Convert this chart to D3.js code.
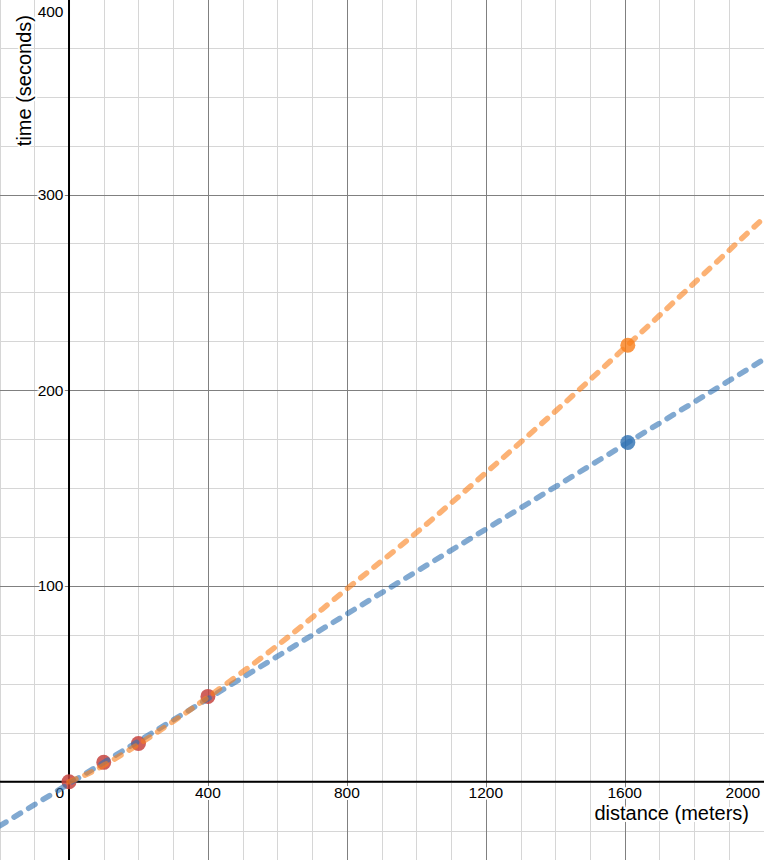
<!DOCTYPE html>
<html>
<head>
<meta charset="utf-8">
<script src="https://cdn.jsdelivr.net/npm/d3@7"></script>
<style>
  html, body { margin: 0; padding: 0; background: #fff; }
  svg { display: block; }
  text { font-family: "Liberation Sans", Arial, Helvetica, sans-serif; fill: #000; }
</style>
</head>
<body>
<svg id="chart" width="764" height="860"></svg>
<script>
// ---- data ----
const xTickValues = [400, 800, 1200, 1600, 2000];
const yTickValues = [100, 200, 300, 400];
const xTickLabels = ["400", "800", "1200", "1600", "2000"];
const yTickLabels = ["100", "200", "300", "400"];

// sprint records (red points)
const recordDistances = [0, 100, 200, 400];
const recordTimes = [0, 9.9, 19.5, 43.6];

// curved (orange) fit
const curveDistances = [0, 50, 100, 200, 300, 400, 600, 800, 1000, 1200, 1400, 1600, 1800, 2000];
const curveTimes = [0, 3.7, 8.4, 19.1, 30.8, 43.2, 69.6, 98.5, 127.2, 157.8, 189.2, 221.7, 254.8, 288.0];

// straight (blue) fit
const lineDistances = [-200, 0, 400, 800, 1200, 1600, 2000];
const lineTimes = [-22.6, -1.0, 42.4, 85.7, 129.0, 172.3, 215.7];

// mile predictions
const mileDistance = [1609];
const mileCurveTime = [223.0];
const mileLineTime = [173.3];

const xLabel = "distance (meters)";
const yLabel = "time (seconds)";

// ---- drawing ----
const W = 764, H = 860;
const svg = d3.select("#chart");
const x = d3.scaleLinear().domain([-198.7, 2001.1]).range([0, W]);
const y = d3.scaleLinear().domain([-40.0, 399.4]).range([H, 0]);

const minorX = d3.range(-200, 2001, 100);
const minorY = d3.range(-25, 401, 25);
const majorX = d3.range(-400, 2001, 400).filter(v => v !== 0);
const majorY = d3.range(-100, 401, 100).filter(v => v !== 0);

const grid = svg.append("g");
grid.selectAll(".mx").data(minorX).join("line")
  .attr("x1", d => Math.round(x(d)) + 0.5).attr("x2", d => Math.round(x(d)) + 0.5)
  .attr("y1", 0).attr("y2", H).attr("stroke", "#d6d6d6").attr("stroke-width", 1);
grid.selectAll(".my").data(minorY).join("line")
  .attr("y1", d => Math.round(y(d)) + 0.5).attr("y2", d => Math.round(y(d)) + 0.5)
  .attr("x1", 0).attr("x2", W).attr("stroke", "#d6d6d6").attr("stroke-width", 1);
grid.selectAll(".Mx").data(majorX).join("line")
  .attr("x1", d => Math.round(x(d)) + 0.5).attr("x2", d => Math.round(x(d)) + 0.5)
  .attr("y1", 0).attr("y2", H).attr("stroke", "#808080").attr("stroke-width", 1);
grid.selectAll(".My").data(majorY).join("line")
  .attr("y1", d => Math.round(y(d)) + 0.5).attr("y2", d => Math.round(y(d)) + 0.5)
  .attr("x1", 0).attr("x2", W).attr("stroke", "#808080").attr("stroke-width", 1);

// axes
svg.append("line").attr("x1", x(0)).attr("x2", x(0)).attr("y1", 0).attr("y2", H)
  .attr("stroke", "#000").attr("stroke-width", 2);
svg.append("line").attr("y1", y(0)).attr("y2", y(0)).attr("x1", 0).attr("x2", W)
  .attr("stroke", "#000").attr("stroke-width", 2);

// tick labels
const labels = svg.append("g").attr("font-size", 15.5);
function halo(sel) {
  return sel.attr("stroke", "#fff").attr("stroke-width", 4).attr("paint-order", "stroke")
    .attr("stroke-linejoin", "round");
}
yTickValues.forEach((v, i) => {
  const cy = Math.max(y(v), 11);
  halo(labels.append("text").attr("x", x(0) - 5.5).attr("y", cy + 5.5)
    .attr("text-anchor", "end").text(yTickLabels[i]));
});
xTickValues.forEach((v, i) => {
  let t = halo(labels.append("text").attr("y", y(0) + 16.5).text(xTickLabels[i]));
  if (x(v) + 18 > W) {
    t.attr("x", W - 4).attr("text-anchor", "end");
  } else {
    t.attr("x", x(v)).attr("text-anchor", "middle");
  }
});
halo(labels.append("text").attr("x", x(0) - 5).attr("y", y(0) + 16.5)
  .attr("text-anchor", "end").text("0"));

// axis titles
halo(svg.append("text").attr("x", 749).attr("y", 820).attr("font-size", 20)
  .attr("text-anchor", "end").text(xLabel));
halo(svg.append("text").attr("transform", "translate(31,15) rotate(-90)")
  .attr("font-size", 20).attr("text-anchor", "end").text(yLabel));

// red record points
svg.append("g").selectAll("circle").data(recordDistances).join("circle")
  .attr("cx", d => x(d)).attr("cy", (d, i) => y(recordTimes[i])).attr("r", 7.5)
  .attr("fill", "#c74440").attr("fill-opacity", 0.85);

// fits
const lineGen = d3.line().x(d => x(d[0])).y(d => y(d[1]));
const blueData = lineDistances.map((d, i) => [d, lineTimes[i]]);
const orangeData = curveDistances.map((d, i) => [d, curveTimes[i]]);

svg.append("path").datum(blueData).attr("d", lineGen)
  .attr("fill", "none").attr("stroke", "#2d70b3").attr("stroke-opacity", 0.6)
  .attr("stroke-width", 5.5).attr("stroke-linecap", "round")
  .attr("stroke-dasharray", "7.5,9.5");
svg.append("path").datum(orangeData).attr("d", lineGen.curve(d3.curveCatmullRom))
  .attr("fill", "none").attr("stroke", "#fa7e19").attr("stroke-opacity", 0.6)
  .attr("stroke-width", 5.5).attr("stroke-linecap", "round")
  .attr("stroke-dasharray", "7.5,9.5");

// mile points
svg.append("g").selectAll("circle").data(mileDistance).join("circle")
  .attr("cx", d => x(d)).attr("cy", (d, i) => y(mileLineTime[i])).attr("r", 7.5)
  .attr("fill", "#2d70b3").attr("fill-opacity", 0.8);
svg.append("g").selectAll("circle").data(mileDistance).join("circle")
  .attr("cx", d => x(d)).attr("cy", (d, i) => y(mileCurveTime[i])).attr("r", 7.5)
  .attr("fill", "#fa7e19").attr("fill-opacity", 0.8);
</script>
</body>
</html>
